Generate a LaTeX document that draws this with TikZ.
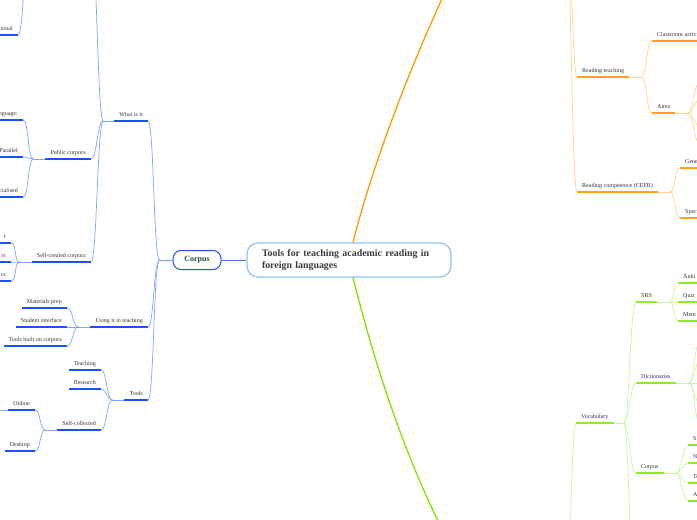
\documentclass[tikz,border=0pt]{standalone}
\usepackage{fontspec}
\setmainfont{Liberation Serif}
\usepackage{tikz}

\definecolor{blT}{HTML}{1E4FFF}
\definecolor{blL}{HTML}{7FA3FF}
\definecolor{orT}{HTML}{FFA126}
\definecolor{orL}{HTML}{FFD48F}
\definecolor{orM}{HTML}{FF9A00}
\definecolor{grT}{HTML}{8FE92E}
\definecolor{grL}{HTML}{C9F6A2}
\definecolor{grM}{HTML}{80E400}
\definecolor{tx}{HTML}{333333}
\definecolor{ctrB}{HTML}{8FC1EB}
\definecolor{ctrT}{HTML}{3B3B3B}
\definecolor{corT}{HTML}{1D4F3C}

\begin{document}
\begin{tikzpicture}[x=1pt, y=-1pt,
	n_tp/.style={
		inner xsep=5pt,
		inner ysep=3pt,
		text height=4.1pt,
		text depth=1.3pt,
		font=\fontsize{6}{7}\selectfont,
		text=tx,
		},
	ul/.style={append after command={(\tikzlastnode.south west) edge[draw=#1, line width=1.3pt] (\tikzlastnode.south east)}},
	n_bl/.style={n_tp, ul=blT, anchor=south east},
	n_or/.style={n_tp, ul=orT, anchor=south west},
	n_gr/.style={n_tp, ul=grT, anchor=south west},
	cut_l/.style={text width=40pt, align=right},
	cut_r/.style={text width=50pt, align=left},
	lk/.style={draw=#1, line width=0.7pt, to path={.. controls +(6pt,0) and +(-6pt,0) .. (\tikztotarget)}},
	c_st/.style={
		rectangle,
		rounded corners=11pt,
		draw=ctrB,
		line width=1.2pt,
		fill=white,
		text width=174pt,
		align=left,
		inner xsep=15pt,
		minimum height=34pt,
		font=\fontsize{9.9}{12}\selectfont\bfseries,
		text=ctrT,
		},
	cor_st/.style={
		rectangle,
		rounded corners=8pt,
		draw=blT,
		line width=1pt,
		fill=white,
		minimum width=48pt,
		minimum height=19pt,
		font=\fontsize{8}{9}\selectfont\bfseries,
		text=corT,
		}]

	\useasboundingbox (0,0) rectangle (697,520);
	\clip (0,0) rectangle (697,520);

	\coordinate (wi0) at (91,-60);
	\coordinate (wi0h) at (30,-60);
	\coordinate (rd) at (470,-60);
	\coordinate (rdh) at (563,-200);
	\coordinate (vo) at (470,580);
	\coordinate (voh) at (563,700);
	\coordinate (vo4) at (636,620);
	\coordinate (am1) at (700,82);
	\coordinate (am2) at (700,100);
	\coordinate (am3) at (700,126);
	\coordinate (am4) at (700,144);
	\coordinate (dm1) at (700,342);
	\coordinate (dm2) at (700,362);
	\coordinate (dm3) at (700,383);
	\coordinate (dm4) at (700,403);
	\coordinate (dm5) at (700,422);

	\node(ctr)[c_st] at (349,260){Tools for teaching academic reading in\\foreign languages};
	\node(cor)[cor_st] at (197,260){Corpus};

	\node(wii)[n_bl] at (148,121){What is it};
	\node(tio)[n_bl,cut_l] at (18,35){tional};
	\node(pub)[n_bl] at (91,159){Public corpora};
	\node(lng)[n_bl,cut_l] at (23,120){nguage:};
	\node(par)[n_bl,cut_l] at (23,157){Parallel};
	\node(spe)[n_bl,cut_l] at (23,197){cialised};
	\node(scc)[n_bl] at (91,262){Self-created corpora};
	\node(sc1)[n_bl,cut_l] at (11,243){r};
	\node(sc2)[n_bl,cut_l] at (11,262){rs};
	\node(sc3)[n_bl,cut_l] at (11,281){cs};
	\node(uit)[n_bl] at (148,327){Using it in teaching};
	\node(mat)[n_bl] at (67,308){Materials prep};
	\node(stu)[n_bl] at (67,327){Student interface};
	\node(tbc)[n_bl] at (67,346){Tools built on corpora};
	\node(tls)[n_bl] at (148,400){Tools};
	\node(tch)[n_bl] at (101,370){Teaching};
	\node(rsr)[n_bl] at (101,389){Research};
	\node(scl)[n_bl] at (101,430){Self-collected};
	\node(onl)[n_bl] at (35,410){Online};
	\node(dsk)[n_bl] at (35,451){Desktop};

	\node(rtc)[n_or] at (577,77){Reading teaching};
	\node(cla)[n_or,cut_r] at (652,41){Classroom activi};
	\node(aim)[n_or] at (652,113){Aims};
	\node(rcm)[n_or] at (577,192){Reading competence (CEFR)};
	\node(gen)[n_or,cut_r] at (680,168){Gene};
	\node(spc)[n_or,cut_r] at (680,218){Spec};

	\node(voc)[n_gr] at (576,423){Vocabulary};
	\node(srs)[n_gr] at (636,302){SRS};
	\node(ank)[n_gr,cut_r] at (678,283){Anki};
	\node(qui)[n_gr,cut_r] at (678,302){Quiz};
	\node(mem)[n_gr,cut_r] at (678,321){Mem};
	\node(dic)[n_gr] at (636,383){Dictionaries};
	\node(vcp)[n_gr] at (636,473){Corpus};
	\node(ski)[n_gr,cut_r] at (688,445){Sk};
	\node(nat)[n_gr,cut_r] at (688,463){Na};
	\node(tex)[n_gr,cut_r] at (688,483){Te};
	\node(arc)[n_gr,cut_r] at (688,501){Ar};

	\draw[blT!80, line width=0.9pt] (cor) -- (ctr);
	\draw[orM, line width=1.3pt] ([xshift=4pt]ctr.north) .. controls (375,155) and (420,40) .. (rd);
	\draw[grM, line width=1.3pt] ([xshift=4pt]ctr.south) .. controls (375,365) and (410,480) .. (vo);

	\draw[lk=blL] (cor.west) -- ++(-13pt,0);
	\path (wii.south east) edge[lk=blL] ([xshift=-13pt]cor.west);
	\path (uit.south east) edge[lk=blL] ([xshift=-13pt]cor.west);
	\path (tls.south east) edge[lk=blL] ([xshift=-13pt]cor.west);

	\draw[lk=blL] (wii.south west) -- ++(-11pt,0);
	\path (wi0) edge[lk=blL] ([xshift=-11pt]wii.south west);
	\path (pub.south east) edge[lk=blL] ([xshift=-11pt]wii.south west);
	\path (scc.south east) edge[lk=blL] ([xshift=-11pt]wii.south west);
	\path (tio.south east) edge[lk=blL] (wi0h);

	\draw[lk=blL] (pub.south west) -- ++(-12pt,0);
	\path (lng.south east) edge[lk=blL] ([xshift=-12pt]pub.south west);
	\path (par.south east) edge[lk=blL] ([xshift=-12pt]pub.south west);
	\path (spe.south east) edge[lk=blL] ([xshift=-12pt]pub.south west);

	\draw[lk=blL] (scc.south west) -- ++(-12pt,0);
	\path (sc1.south east) edge[lk=blL] ([xshift=-12pt]scc.south west);
	\path (sc2.south east) edge[lk=blL] ([xshift=-12pt]scc.south west);
	\path (sc3.south east) edge[lk=blL] ([xshift=-12pt]scc.south west);

	\draw[lk=blL] (uit.south west) -- ++(-12pt,0);
	\path (mat.south east) edge[lk=blL] ([xshift=-12pt]uit.south west);
	\path (stu.south east) edge[lk=blL] ([xshift=-12pt]uit.south west);
	\path (tbc.south east) edge[lk=blL] ([xshift=-12pt]uit.south west);

	\draw[lk=blL] (tls.south west) -- ++(-12pt,0);
	\path (tch.south east) edge[lk=blL] ([xshift=-12pt]tls.south west);
	\path (rsr.south east) edge[lk=blL] ([xshift=-12pt]tls.south west);
	\path (scl.south east) edge[lk=blL] ([xshift=-12pt]tls.south west);

	\draw[lk=blL] (scl.south west) -- ++(-12pt,0);
	\path (onl.south east) edge[lk=blL] ([xshift=-12pt]scl.south west);
	\path (dsk.south east) edge[lk=blL] ([xshift=-12pt]scl.south west);
	\draw[lk=blL] (onl.south west) -- ++(-12pt,0);

	\path (rdh) edge[lk=orL] (rtc.south west);
	\path (rdh) edge[lk=orL] (rcm.south west);

	\draw[lk=orL] (rtc.south east) -- ++(12pt,0);
	\path ([xshift=12pt]rtc.south east) edge[lk=orL] (cla.south west);
	\path ([xshift=12pt]rtc.south east) edge[lk=orL] (aim.south west);

	\draw[lk=orL] (aim.south east) -- ++(12pt,0);
	\path ([xshift=12pt]aim.south east) edge[lk=orL] (am1);
	\path ([xshift=12pt]aim.south east) edge[lk=orL] (am2);
	\path ([xshift=12pt]aim.south east) edge[lk=orL] (am3);
	\path ([xshift=12pt]aim.south east) edge[lk=orL] (am4);

	\draw[lk=orL] (rcm.south east) -- ++(12pt,0);
	\path ([xshift=12pt]rcm.south east) edge[lk=orL] (gen.south west);
	\path ([xshift=12pt]rcm.south east) edge[lk=orL] (spc.south west);

	\path (voh) edge[lk=grL] (voc.south west);
	\draw[lk=grL] (voc.south east) -- ++(10pt,0);
	\path ([xshift=10pt]voc.south east) edge[lk=grL] (srs.south west);
	\path ([xshift=10pt]voc.south east) edge[lk=grL] (dic.south west);
	\path ([xshift=10pt]voc.south east) edge[lk=grL] (vcp.south west);
	\path ([xshift=10pt]voc.south east) edge[lk=grL] (vo4);

	\draw[lk=grL] (srs.south east) -- ++(12pt,0);
	\path ([xshift=12pt]srs.south east) edge[lk=grL] (ank.south west);
	\path ([xshift=12pt]srs.south east) edge[lk=grL] (qui.south west);
	\path ([xshift=12pt]srs.south east) edge[lk=grL] (mem.south west);

	\draw[lk=grL] (dic.south east) -- ++(13pt,0);
	\path ([xshift=13pt]dic.south east) edge[lk=grL] (dm1);
	\path ([xshift=13pt]dic.south east) edge[lk=grL] (dm2);
	\path ([xshift=13pt]dic.south east) edge[lk=grL] (dm3);
	\path ([xshift=13pt]dic.south east) edge[lk=grL] (dm4);
	\path ([xshift=13pt]dic.south east) edge[lk=grL] (dm5);

	\draw[lk=grL] (vcp.south east) -- ++(12pt,0);
	\path ([xshift=12pt]vcp.south east) edge[lk=grL] (ski.south west);
	\path ([xshift=12pt]vcp.south east) edge[lk=grL] (nat.south west);
	\path ([xshift=12pt]vcp.south east) edge[lk=grL] (tex.south west);
	\path ([xshift=12pt]vcp.south east) edge[lk=grL] (arc.south west);

\end{tikzpicture}
\end{document}
